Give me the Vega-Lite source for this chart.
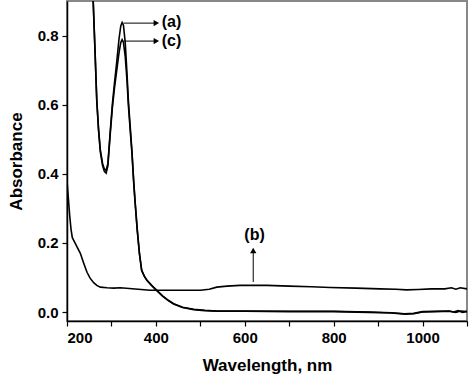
{
  "$schema": "https://vega.github.io/schema/vega-lite/v6.json",
  "autosize": {"type": "none"},
  "width": 400,
  "height": 320,
  "padding": {"left": 67, "top": 1, "right": 7, "bottom": 70},
  "background": "white",
  "config": {
    "view": {"stroke": "#888888", "strokeWidth": 2},
    "font": "Liberation Sans",
    "axis": {"labelFont": "Liberation Sans", "titleFont": "Liberation Sans", "labelFontWeight": "bold", "titleFontWeight": "bold", "labelFontSize": 15, "titleFontSize": 17, "labelColor": "black", "titleColor": "black", "domainColor": "black", "tickColor": "black", "grid": false, "tickSize": 5, "domainWidth": 1.5, "tickWidth": 1.2}
  },
  "datasets": {
    "spectra": [
      {"series": "a", "wavelength": 240, "absorbance": 1.6},
      {"series": "a", "wavelength": 250, "absorbance": 1.2},
      {"series": "a", "wavelength": 255, "absorbance": 1.0},
      {"series": "a", "wavelength": 259, "absorbance": 0.9},
      {"series": "a", "wavelength": 263, "absorbance": 0.76},
      {"series": "a", "wavelength": 267, "absorbance": 0.614},
      {"series": "a", "wavelength": 271, "absorbance": 0.53},
      {"series": "a", "wavelength": 275, "absorbance": 0.469},
      {"series": "a", "wavelength": 280, "absorbance": 0.43},
      {"series": "a", "wavelength": 284, "absorbance": 0.414},
      {"series": "a", "wavelength": 288, "absorbance": 0.41},
      {"series": "a", "wavelength": 292, "absorbance": 0.43},
      {"series": "a", "wavelength": 297, "absorbance": 0.518},
      {"series": "a", "wavelength": 302, "absorbance": 0.6},
      {"series": "a", "wavelength": 307, "absorbance": 0.665},
      {"series": "a", "wavelength": 312, "absorbance": 0.725},
      {"series": "a", "wavelength": 317, "absorbance": 0.79},
      {"series": "a", "wavelength": 321, "absorbance": 0.828},
      {"series": "a", "wavelength": 324, "absorbance": 0.838},
      {"series": "a", "wavelength": 327, "absorbance": 0.83},
      {"series": "a", "wavelength": 331, "absorbance": 0.78},
      {"series": "a", "wavelength": 335, "absorbance": 0.69},
      {"series": "a", "wavelength": 338, "absorbance": 0.614},
      {"series": "a", "wavelength": 342, "absorbance": 0.54},
      {"series": "a", "wavelength": 346, "absorbance": 0.469},
      {"series": "a", "wavelength": 350, "absorbance": 0.38},
      {"series": "a", "wavelength": 353, "absorbance": 0.324},
      {"series": "a", "wavelength": 358, "absorbance": 0.24},
      {"series": "a", "wavelength": 363, "absorbance": 0.17},
      {"series": "a", "wavelength": 368, "absorbance": 0.121},
      {"series": "a", "wavelength": 374, "absorbance": 0.104},
      {"series": "a", "wavelength": 380, "absorbance": 0.092},
      {"series": "a", "wavelength": 390, "absorbance": 0.078},
      {"series": "a", "wavelength": 402, "absorbance": 0.063},
      {"series": "a", "wavelength": 415, "absorbance": 0.047},
      {"series": "a", "wavelength": 428, "absorbance": 0.034},
      {"series": "a", "wavelength": 440, "absorbance": 0.024},
      {"series": "a", "wavelength": 460, "absorbance": 0.014},
      {"series": "a", "wavelength": 485, "absorbance": 0.008},
      {"series": "a", "wavelength": 510, "absorbance": 0.005},
      {"series": "a", "wavelength": 537, "absorbance": 0.003},
      {"series": "a", "wavelength": 600, "absorbance": 0.003},
      {"series": "a", "wavelength": 700, "absorbance": 0.002},
      {"series": "a", "wavelength": 800, "absorbance": 0.002},
      {"series": "a", "wavelength": 880, "absorbance": 0.0},
      {"series": "a", "wavelength": 930, "absorbance": -0.002},
      {"series": "a", "wavelength": 960, "absorbance": -0.005},
      {"series": "a", "wavelength": 980, "absorbance": -0.004},
      {"series": "a", "wavelength": 1000, "absorbance": 0.001},
      {"series": "a", "wavelength": 1030, "absorbance": 0.002},
      {"series": "a", "wavelength": 1060, "absorbance": 0.003},
      {"series": "a", "wavelength": 1070, "absorbance": 0.0},
      {"series": "a", "wavelength": 1080, "absorbance": 0.004},
      {"series": "a", "wavelength": 1090, "absorbance": -0.001},
      {"series": "a", "wavelength": 1100, "absorbance": 0.002},
      {"series": "c", "wavelength": 240, "absorbance": 1.6},
      {"series": "c", "wavelength": 250, "absorbance": 1.2},
      {"series": "c", "wavelength": 255, "absorbance": 1.0},
      {"series": "c", "wavelength": 259, "absorbance": 0.895},
      {"series": "c", "wavelength": 263, "absorbance": 0.755},
      {"series": "c", "wavelength": 267, "absorbance": 0.61},
      {"series": "c", "wavelength": 271, "absorbance": 0.525},
      {"series": "c", "wavelength": 275, "absorbance": 0.463},
      {"series": "c", "wavelength": 280, "absorbance": 0.424},
      {"series": "c", "wavelength": 284, "absorbance": 0.407},
      {"series": "c", "wavelength": 288, "absorbance": 0.402},
      {"series": "c", "wavelength": 292, "absorbance": 0.423},
      {"series": "c", "wavelength": 297, "absorbance": 0.51},
      {"series": "c", "wavelength": 302, "absorbance": 0.59},
      {"series": "c", "wavelength": 307, "absorbance": 0.65},
      {"series": "c", "wavelength": 312, "absorbance": 0.7},
      {"series": "c", "wavelength": 317, "absorbance": 0.75},
      {"series": "c", "wavelength": 321, "absorbance": 0.78},
      {"series": "c", "wavelength": 324, "absorbance": 0.788},
      {"series": "c", "wavelength": 327, "absorbance": 0.78},
      {"series": "c", "wavelength": 331, "absorbance": 0.74},
      {"series": "c", "wavelength": 335, "absorbance": 0.67},
      {"series": "c", "wavelength": 338, "absorbance": 0.6},
      {"series": "c", "wavelength": 342, "absorbance": 0.53},
      {"series": "c", "wavelength": 346, "absorbance": 0.462},
      {"series": "c", "wavelength": 350, "absorbance": 0.376},
      {"series": "c", "wavelength": 353, "absorbance": 0.32},
      {"series": "c", "wavelength": 358, "absorbance": 0.237},
      {"series": "c", "wavelength": 363, "absorbance": 0.168},
      {"series": "c", "wavelength": 368, "absorbance": 0.12},
      {"series": "c", "wavelength": 374, "absorbance": 0.103},
      {"series": "c", "wavelength": 380, "absorbance": 0.091},
      {"series": "c", "wavelength": 390, "absorbance": 0.077},
      {"series": "c", "wavelength": 402, "absorbance": 0.062},
      {"series": "c", "wavelength": 415, "absorbance": 0.046},
      {"series": "c", "wavelength": 428, "absorbance": 0.033},
      {"series": "c", "wavelength": 440, "absorbance": 0.023},
      {"series": "c", "wavelength": 460, "absorbance": 0.013},
      {"series": "c", "wavelength": 485, "absorbance": 0.007},
      {"series": "c", "wavelength": 510, "absorbance": 0.004},
      {"series": "c", "wavelength": 537, "absorbance": 0.002},
      {"series": "c", "wavelength": 600, "absorbance": 0.002},
      {"series": "c", "wavelength": 700, "absorbance": 0.001},
      {"series": "c", "wavelength": 800, "absorbance": 0.001},
      {"series": "c", "wavelength": 880, "absorbance": -0.001},
      {"series": "c", "wavelength": 930, "absorbance": -0.003},
      {"series": "c", "wavelength": 960, "absorbance": -0.006},
      {"series": "c", "wavelength": 980, "absorbance": -0.005},
      {"series": "c", "wavelength": 1000, "absorbance": 0.0},
      {"series": "c", "wavelength": 1030, "absorbance": 0.001},
      {"series": "c", "wavelength": 1060, "absorbance": 0.002},
      {"series": "c", "wavelength": 1075, "absorbance": -0.001},
      {"series": "c", "wavelength": 1085, "absorbance": 0.003},
      {"series": "c", "wavelength": 1100, "absorbance": 0.001},
      {"series": "b", "wavelength": 200, "absorbance": 0.38},
      {"series": "b", "wavelength": 203, "absorbance": 0.33},
      {"series": "b", "wavelength": 206, "absorbance": 0.28},
      {"series": "b", "wavelength": 209, "absorbance": 0.24},
      {"series": "b", "wavelength": 212, "absorbance": 0.215},
      {"series": "b", "wavelength": 218, "absorbance": 0.2},
      {"series": "b", "wavelength": 224, "absorbance": 0.185},
      {"series": "b", "wavelength": 230, "absorbance": 0.17},
      {"series": "b", "wavelength": 238, "absorbance": 0.14},
      {"series": "b", "wavelength": 245, "absorbance": 0.115},
      {"series": "b", "wavelength": 252, "absorbance": 0.098},
      {"series": "b", "wavelength": 260, "absorbance": 0.085},
      {"series": "b", "wavelength": 267, "absorbance": 0.077},
      {"series": "b", "wavelength": 275, "absorbance": 0.072},
      {"series": "b", "wavelength": 290, "absorbance": 0.07},
      {"series": "b", "wavelength": 305, "absorbance": 0.069},
      {"series": "b", "wavelength": 320, "absorbance": 0.07},
      {"series": "b", "wavelength": 340, "absorbance": 0.068},
      {"series": "b", "wavelength": 360, "absorbance": 0.066},
      {"series": "b", "wavelength": 387, "absorbance": 0.063},
      {"series": "b", "wavelength": 420, "absorbance": 0.063},
      {"series": "b", "wavelength": 460, "absorbance": 0.063},
      {"series": "b", "wavelength": 500, "absorbance": 0.063},
      {"series": "b", "wavelength": 520, "absorbance": 0.066},
      {"series": "b", "wavelength": 537, "absorbance": 0.072},
      {"series": "b", "wavelength": 560, "absorbance": 0.075},
      {"series": "b", "wavelength": 589, "absorbance": 0.077},
      {"series": "b", "wavelength": 619, "absorbance": 0.077},
      {"series": "b", "wavelength": 650, "absorbance": 0.077},
      {"series": "b", "wavelength": 700, "absorbance": 0.075},
      {"series": "b", "wavelength": 750, "absorbance": 0.073},
      {"series": "b", "wavelength": 792, "absorbance": 0.071},
      {"series": "b", "wavelength": 850, "absorbance": 0.069},
      {"series": "b", "wavelength": 904, "absorbance": 0.067},
      {"series": "b", "wavelength": 940, "absorbance": 0.066},
      {"series": "b", "wavelength": 964, "absorbance": 0.064},
      {"series": "b", "wavelength": 990, "absorbance": 0.065},
      {"series": "b", "wavelength": 1020, "absorbance": 0.067},
      {"series": "b", "wavelength": 1050, "absorbance": 0.067},
      {"series": "b", "wavelength": 1065, "absorbance": 0.07},
      {"series": "b", "wavelength": 1075, "absorbance": 0.066},
      {"series": "b", "wavelength": 1085, "absorbance": 0.07},
      {"series": "b", "wavelength": 1100, "absorbance": 0.067}
    ],
    "arrows": [
      {"label": "(a)", "x1": 327, "x2": 402, "y1": 0.836, "y2": 0.836},
      {"label": "(c)", "x1": 327, "x2": 402, "y1": 0.784, "y2": 0.784},
      {"label": "(b)", "x1": 619, "x2": 619, "y1": 0.087, "y2": 0.18}
    ],
    "rightHeads": [
      {"label": "(a)", "x": 401, "y": 0.836},
      {"label": "(c)", "x": 401, "y": 0.784}
    ],
    "upHeads": [
      {"label": "(b)", "x": 619, "y": 0.178}
    ],
    "sideLabels": [
      {"label": "(a)", "x": 413, "y": 0.838},
      {"label": "(c)", "x": 413, "y": 0.784}
    ],
    "topLabels": [
      {"label": "(b)", "x": 622, "y": 0.222}
    ]
  },
  "layer": [
    {
      "data": {"name": "spectra"},
      "mark": {"type": "line", "color": "black", "strokeWidth": 1.6, "clip": true},
      "encoding": {
        "x": {"field": "wavelength", "type": "quantitative", "scale": {"domain": [200, 1100], "nice": false, "zero": false},
          "axis": {"title": "Wavelength, nm", "values": [200, 300, 400, 500, 600, 700, 800, 900, 1000, 1100], "labelExpr": "datum.value % 200 == 0 ? datum.label : ''", "format": "d", "labelPadding": 4, "titlePadding": 12}},
        "y": {"field": "absorbance", "type": "quantitative", "scale": {"domain": [-0.026, 0.9], "nice": false, "zero": false},
          "axis": {"title": "Absorbance", "values": [0, 0.1, 0.2, 0.3, 0.4, 0.5, 0.6, 0.7, 0.8], "labelExpr": "(round(datum.value*10) % 2 == 0) ? format(datum.value, '.1f') : ''", "labelPadding": 4, "titlePadding": 12}},
        "detail": {"field": "series", "type": "nominal"}
      }
    },
    {
      "data": {"name": "arrows"},
      "mark": {"type": "rule", "color": "black", "strokeWidth": 1},
      "encoding": {
        "x": {"field": "x1", "type": "quantitative"},
        "x2": {"field": "x2"},
        "y": {"field": "y1", "type": "quantitative"},
        "y2": {"field": "y2"}
      }
    },
    {
      "data": {"name": "rightHeads"},
      "mark": {"type": "point", "shape": "triangle-right", "filled": true, "color": "black", "size": 40, "opacity": 1},
      "encoding": {
        "x": {"field": "x", "type": "quantitative"},
        "y": {"field": "y", "type": "quantitative"}
      }
    },
    {
      "data": {"name": "upHeads"},
      "mark": {"type": "point", "shape": "triangle-up", "filled": true, "color": "black", "size": 40, "opacity": 1},
      "encoding": {
        "x": {"field": "x", "type": "quantitative"},
        "y": {"field": "y", "type": "quantitative"}
      }
    },
    {
      "data": {"name": "sideLabels"},
      "mark": {"type": "text", "color": "black", "fontSize": 16, "fontWeight": "bold", "baseline": "middle", "align": "left"},
      "encoding": {
        "x": {"field": "x", "type": "quantitative"},
        "y": {"field": "y", "type": "quantitative"},
        "text": {"field": "label"}
      }
    },
    {
      "data": {"name": "topLabels"},
      "mark": {"type": "text", "color": "black", "fontSize": 16, "fontWeight": "bold", "baseline": "middle", "align": "center"},
      "encoding": {
        "x": {"field": "x", "type": "quantitative"},
        "y": {"field": "y", "type": "quantitative"},
        "text": {"field": "label"}
      }
    }
  ]
}
